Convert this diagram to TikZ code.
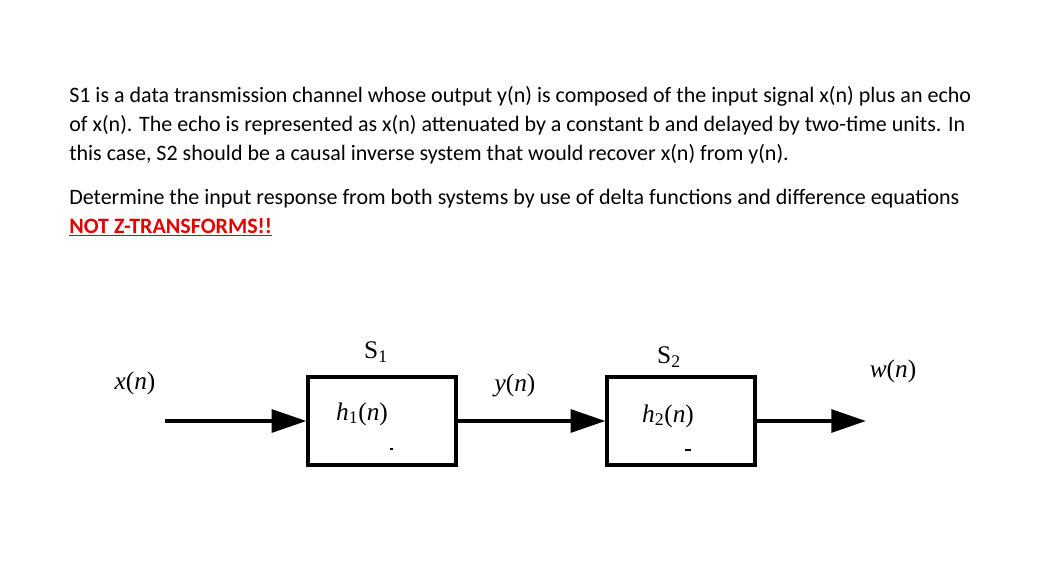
\documentclass[tikz,border=0pt]{standalone}
\usepackage{fontspec}
\setmainfont{Carlito}
\newfontfamily\tms{Liberation Serif}
\usetikzlibrary{arrows.meta}
\newcommand{\myit}[1]{\textit{#1}}
\begin{document}
\begin{tikzpicture}[x=0.75pt,y=-0.75pt,
  txt/.style={anchor=base west,inner sep=0,font=\fontsize{16.5}{19}\selectfont},
  lab/.style={inner sep=0,font=\tms\fontsize{19}{21}\selectfont},
  blk/.style={draw,line width=2.4pt,minimum width=111pt,minimum height=66pt,inner sep=0},
  arr/.style={line width=3pt,-{Triangle[length=26pt,width=17pt]}}]
\useasboundingbox (0,0) rectangle (1063,568);
\node[txt] (t1) at (69,102) {S1 is a data transmission channel whose output y(n) is composed of the input signal x(n) plus an echo};
\node[txt] (t2) at (69,131) {of x(n). The echo is represented as x(n) attenuated by a constant b and delayed by two-time units. In};
\node[txt] (t3) at (69,160) {this case, S2 should be a causal inverse system that would recover x(n) from y(n).};
\node[txt] (t4) at (69,204) {Determine the input response from both systems by use of delta functions and difference equations};
\node[txt,text=red!90!black] (t5) at (69,233) {\underline{\textbf{NOT Z-TRANSFORMS!!}}};
\node[blk] (b1) at (382,421) {};
\node[blk] (b2) at (681,421) {};
\coordinate (in) at (165,421);
\coordinate (out) at (866,421);
\draw[arr] (in) -- (b1.west);
\draw[arr] (b1.east) -- (b2.west);
\draw[arr] (b2.east) -- (out);
\node[lab] (x) at (135,383) {\myit{x}(\myit{n})};
\node[lab] (s1) at (376,352) {S\textsubscript{1}};
\node[lab] (y) at (515,385) {\myit{y}(\myit{n})};
\node[lab] (s2) at (669,357) {S\textsubscript{2}};
\node[lab] (w) at (893,371) {\myit{w}(\myit{n})};
\node[lab] (h1) at (362,414) {\myit{h}\textsubscript{1}(\myit{n})};
\node[lab] (h2) at (668,416) {\myit{h}\textsubscript{2}(\myit{n})};
\draw[line width=1.2pt] (390,449) -- (393,449);
\draw[line width=0.8pt] (685,450) -- (691,450);
\end{tikzpicture}
\end{document}
